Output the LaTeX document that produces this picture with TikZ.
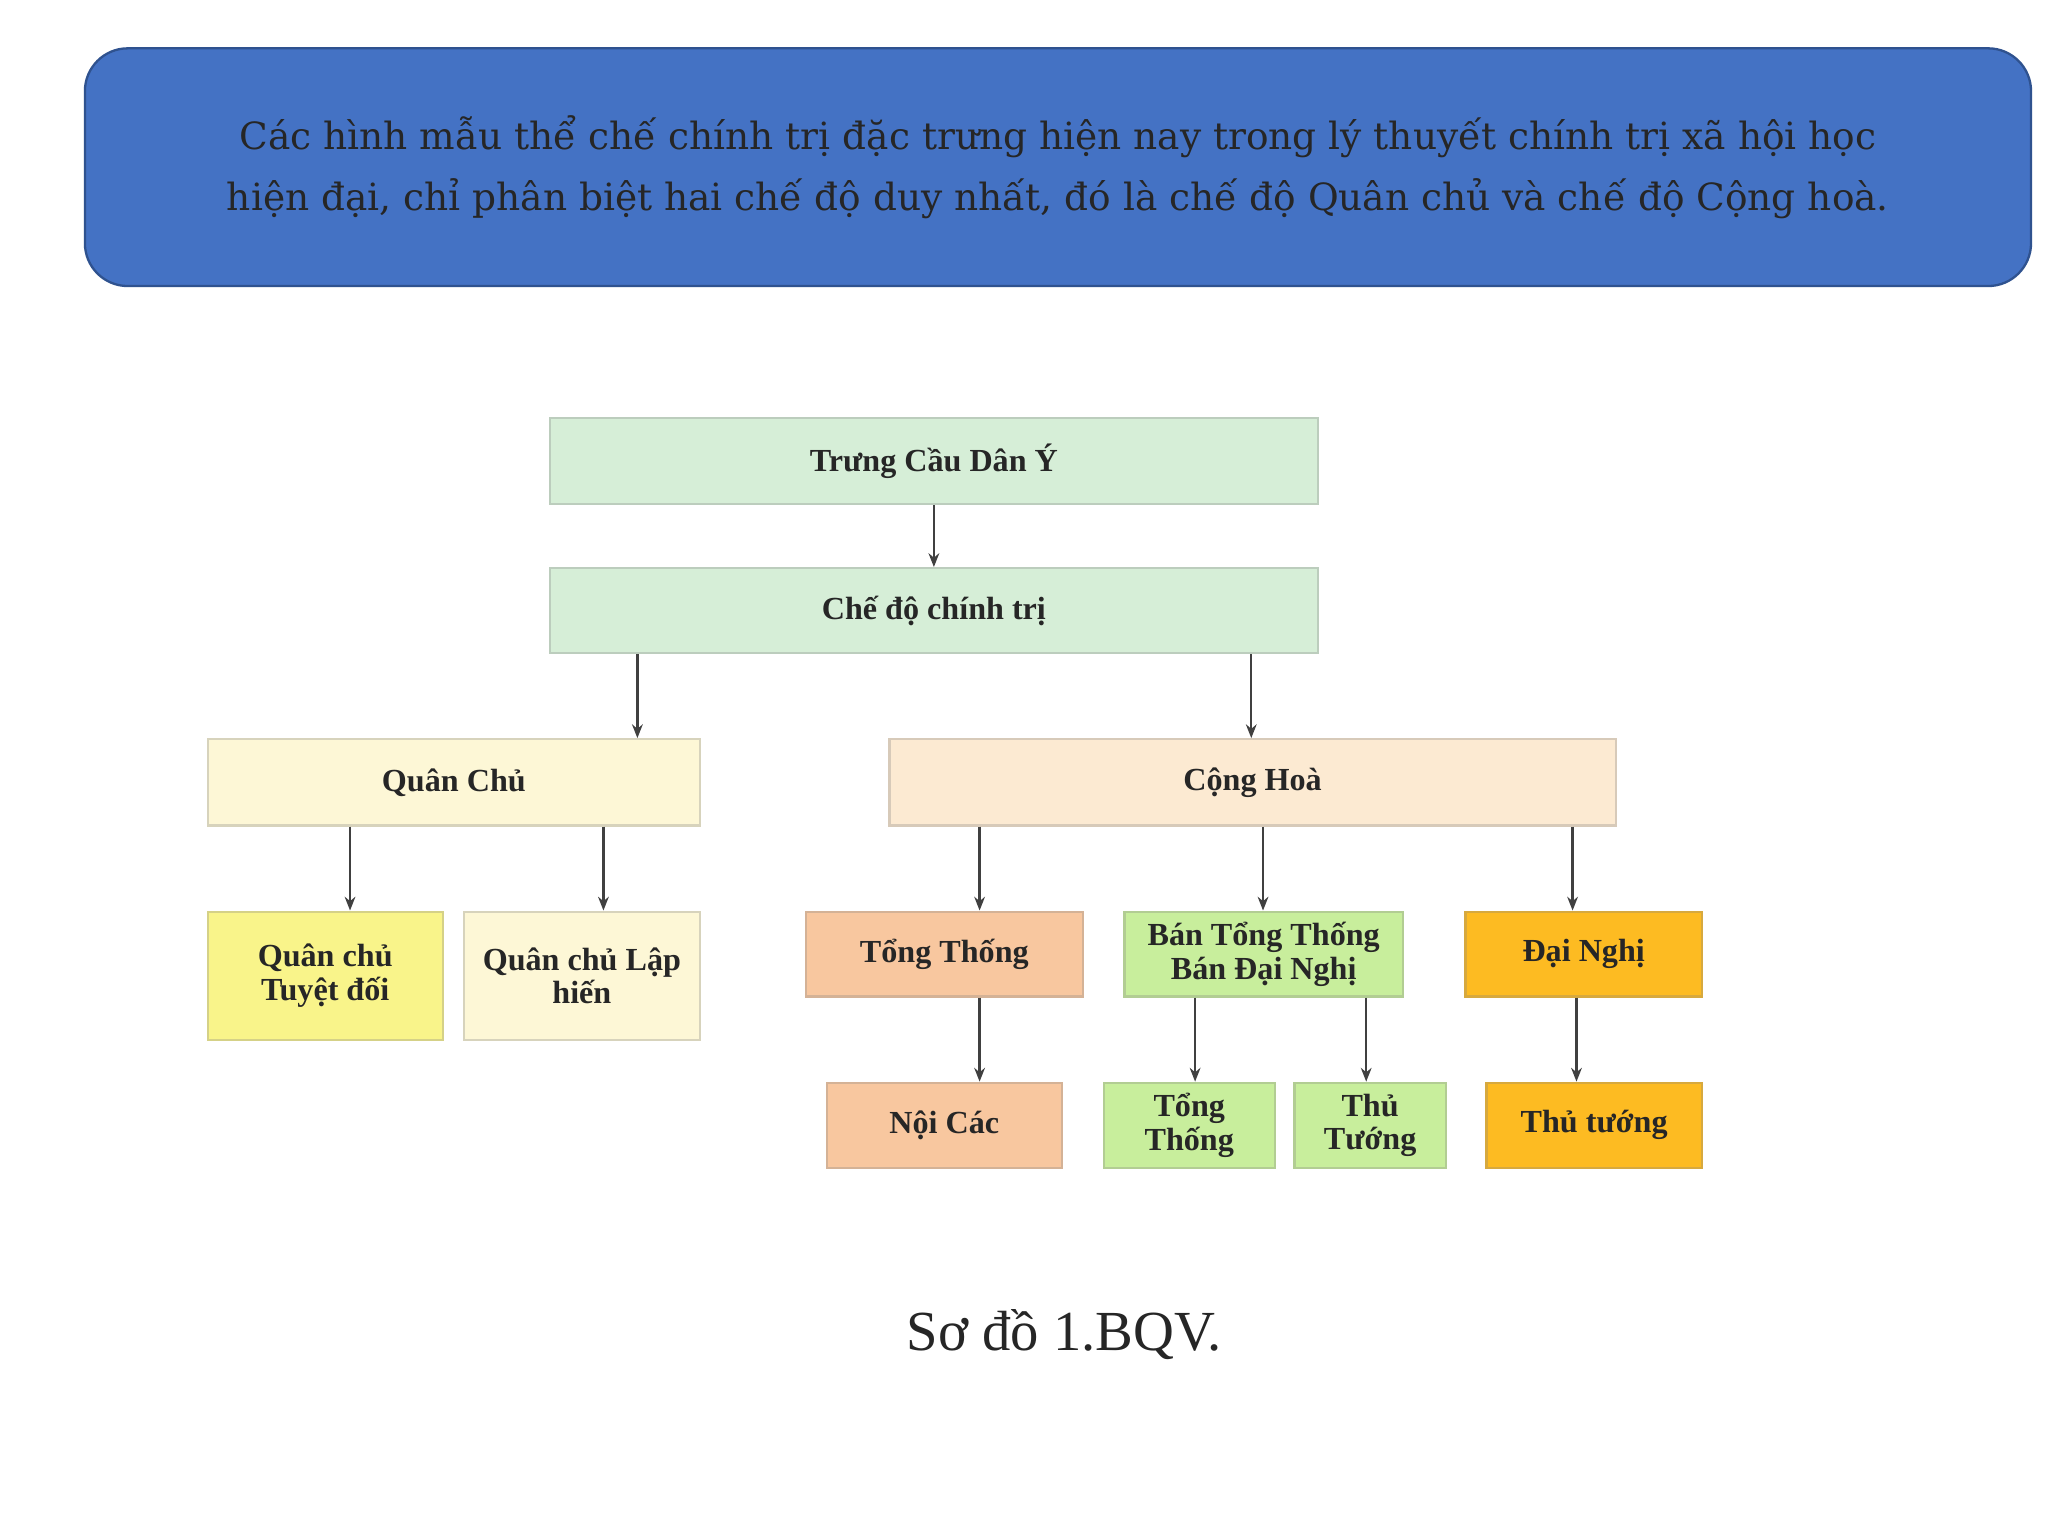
\documentclass[tikz,border=0pt]{standalone}
\usepackage{fontspec}
\setmainfont{Liberation Serif}
\newfontfamily\topfont{DejaVu Serif}
\usetikzlibrary{arrows.meta}
\definecolor{gA}{HTML}{D6EED7}
\definecolor{yA}{HTML}{FDF7D6}
\definecolor{pA}{HTML}{FCEAD2}
\definecolor{yB}{HTML}{F9F48A}
\definecolor{peach}{HTML}{F8C79F}
\definecolor{grn}{HTML}{C8EE9C}
\definecolor{org}{HTML}{FDBB22}
\definecolor{blu}{HTML}{4472C4}
\definecolor{bluD}{HTML}{2F528F}
\begin{document}
\begin{tikzpicture}[x=0.03cm,y=-0.03cm,
 bx/.style={draw=#1!70!gray,line width=1.5pt,inner sep=0pt,align=center,font=\fontsize{21}{22}\selectfont\bfseries,text=black!85},
 ar/.style={-{Stealth[length=9pt,width=7pt]},line width=1.5pt,draw=black!75}]
\useasboundingbox (0,0) rectangle (1568,1176);
\fill[white] (0,0) rectangle (1568,1176);
\node[draw=bluD,line width=1.5pt,fill=blu,rounded corners=28pt,minimum width=1490*0.03cm,minimum height=182*0.03cm,
 align=center,font=\topfont\fontsize{24.5}{40}\selectfont,text=black!85] (top) at (810,128)
 {Các hình mẫu thể chế chính trị đặc trưng hiện nay trong lý thuyết chính trị xã hội học\\hiện đại, chỉ phân biệt hai chế độ duy nhất, đó là chế độ Quân chủ và chế độ Cộng hoà.};
\newcommand\bxn[7]{\node[bx=#6,fill=#6,minimum width={(#3-#2)*0.03cm},minimum height={(#5-#4)*0.03cm}] (#1) at ({(#2+#3)/2},{(#4+#5)/2}) {#7};}
\bxn{tc}{421}{1009}{320}{386}{gA}{Trưng Cầu Dân Ý}
\bxn{cd}{421}{1009}{435}{500}{gA}{Chế độ chính trị}
\bxn{qc}{159}{536}{566}{632}{yA}{Quân Chủ}
\bxn{ch}{681}{1237}{566}{632}{pA}{Cộng Hoà}
\bxn{td}{159}{339}{698}{796}{yB}{Quân chủ\\Tuyệt đối}
\bxn{lh}{355}{536}{698}{796}{yA}{Quân chủ Lập\\hiến}
\bxn{tt}{617}{829}{698}{763}{peach}{Tổng Thống}
\bxn{bt}{861}{1074}{698}{763}{grn}{Bán Tổng Thống\\Bán Đại Nghị}
\bxn{dn}{1122}{1303}{698}{763}{org}{Đại Nghị}
\bxn{nc}{633}{813}{829}{894}{peach}{Nội Các}
\bxn{tt2}{845}{976}{829}{894}{grn}{Tổng\\Thống}
\bxn{tg}{991}{1107}{829}{894}{grn}{Thủ\\Tướng}
\bxn{tg2}{1138}{1303}{829}{894}{org}{Thủ tướng}
\draw[ar] (tc.south) -- (cd.north);
\draw[ar] (cd.south -| 488,0) -- (qc.north -| 488,0);
\draw[ar] (cd.south -| 958,0) -- (ch.north -| 958,0);
\draw[ar] (qc.south -| 268,0) -- (td.north -| 268,0);
\draw[ar] (qc.south -| 462,0) -- (lh.north -| 462,0);
\draw[ar] (ch.south -| 750,0) -- (tt.north -| 750,0);
\draw[ar] (ch.south -| 967,0) -- (bt.north -| 967,0);
\draw[ar] (ch.south -| 1204,0) -- (dn.north -| 1204,0);
\draw[ar] (tt.south -| 750,0) -- (nc.north -| 750,0);
\draw[ar] (bt.south -| 915,0) -- (tt2.north -| 915,0);
\draw[ar] (bt.south -| 1046,0) -- (tg.north -| 1046,0);
\draw[ar] (dn.south -| 1207,0) -- (tg2.north -| 1207,0);
\node[font=\fontsize{37}{40}\selectfont,text=black!85] (cap) at (815,1022) {Sơ đồ 1.BQV.};
\end{tikzpicture}
\end{document}
